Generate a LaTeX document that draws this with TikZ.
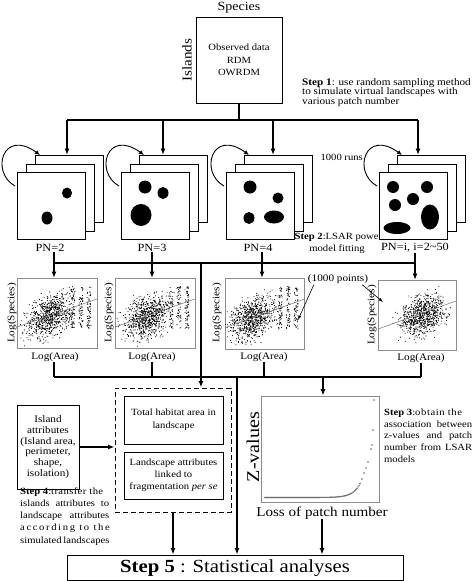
\documentclass[tikz,border=0pt]{standalone}
\usepackage{fontspec}
\setmainfont{Liberation Serif}[FakeStretch=1.12]
\usetikzlibrary{arrows.meta,calc}
\newcommand\myfs[2]{\fontsize{#1}{#2}\selectfont}
\newcommand\jline[2]{\makebox[#1][s]{#2}}
\newcommand\spaced[2]{{\addfontfeature{LetterSpace=#1}#2}}
% scatter plot: x0 y0 w h seed cx streaks
\newcommand\scat[7]{%
\begin{scope}
\clip (#1,#2) rectangle ++(#3,#4);
\pgfmathsetseed{#5}
\foreach \i in {1,...,750}{%
  \pgfmathsetmacro\uu{#6+0.14*(rand+rand+rand)}%
  \pgfmathsetmacro\vv{0.52-0.35*(\uu-0.5)+0.14*(rand+rand+rand)}%
  \fill (#1+\uu*#3,#2+\vv*#4) circle (0.55);
}
\ifnum#7=1
\foreach \i in {1,...,170}{%
  \pgfmathsetmacro\uu{0.7+0.1*floor(3*rnd)+0.025*rand}%
  \pgfmathsetmacro\vv{0.42+0.3*rand}%
  \fill (#1+\uu*#3,#2+\vv*#4) circle (0.55);
}
\fi
\draw[black!55,line width=0.5pt] (#1,#2+0.7*#4) -- (#1+#3,#2+0.3*#4);
\end{scope}}
\begin{document}
\begin{tikzpicture}[x=1pt,y=-1pt,
  conn/.style={line width=1.3pt},
  arr/.style={line width=1.3pt,-{Latex[length=6.5pt,width=5pt]}},
  box/.style={draw,line width=0.8pt,fill=white,inner sep=0pt},
  gbox/.style={draw=black!45,line width=0.8pt,inner sep=0pt,fill=white},
  loopar/.style={line width=0.9pt,-{Latex[length=5pt,width=4.5pt]}},
  thinarr/.style={line width=0.6pt,-{Latex[length=4.5pt,width=3pt]}},
  lbl/.style={inner sep=0pt,font=\myfs{10}{12}},
  blob/.style={fill=black},
]
\useasboundingbox (0,0) rectangle (474,581);
\fill[white] (0,0) rectangle (474,581);

% ---------- top ----------
\node[lbl,font=\myfs{12.5}{14}] (species) at (239,8) {Species};
\node[box,minimum width=86,minimum height=86,align=center,font=\myfs{9.5}{12.5}] (data) at (239,60) {Observed data\\RDM\\OWRDM};
\node[lbl,font=\myfs{13.5}{14},rotate=90] (islands) at (187,60) {Islands};
\node[lbl,anchor=north west,align=left,font=\myfs{10}{9.5}] (step1) at (302,78) {\textbf{Step 1}: use random sampling method\\to simulate virtual landscapes with\\various patch number};

\coordinate (j0) at (239,120);
\coordinate (h1) at (67,120);
\coordinate (h2) at (163,120);
\coordinate (h3) at (273,120);
\coordinate (h4) at (418,120);
\draw[conn] (data.south) -- (j0);
\draw[conn] (h1) -- (h4);

% ---------- stacks ----------
\newcommand\stack[2]{%
  \node[box,minimum width=68,minimum height=67,anchor=north west] (b#2) at (#1+18,155) {};
  \node[box,minimum width=68,minimum height=67,anchor=north west] (m#2) at (#1+9,163.5) {};
  \node[box,minimum width=68,minimum height=67,anchor=north west] (f#2) at (#1,172) {};
  \draw[loopar] (#1-2,186) .. controls (#1-27,172) and (#1-14,128) .. (#1+23,155);
}
\stack{17}{1}
\fill[blob] (67,193) ellipse (5 and 5.5);
\fill[blob] (47,218) ellipse (5.5 and 6.5);
\stack{121}{2}
\fill[blob] (145,187) circle (6.5);
\fill[blob] (163,193) ellipse (5.5 and 6);
\fill[blob] (141,215) ellipse (10.5 and 11);
\stack{226}{3}
\fill[blob] (250,187) circle (6.5);
\fill[blob] (278,198) circle (5.5);
\fill[blob] (249,218) ellipse (5.5 and 6);
\fill[blob] (274,217) ellipse (10 and 6.5);
\node[lbl,anchor=west,font=\myfs{9.5}{11}] (step2) at (294.5,237) {\textbf{Step 2}:LSAR power};
\node[lbl,font=\myfs{9.5}{11}] (step2b) at (337,249) {model fitting};
\stack{379}{4}
\fill[blob] (393,187) circle (6);
\fill[blob] (427,187) circle (6);
\fill[blob] (413,199) circle (6);
\fill[blob] (395,205) circle (6);
\fill[blob] (430,217) ellipse (9 and 12.5);
\fill[blob] (397,228) ellipse (13.5 and 6);
\node[lbl,anchor=east,font=\myfs{9.5}{11}] (runs) at (363,157) {1000 runs};

\draw[arr] (h1) -- (h1 |- b1.north);
\draw[arr] (h2) -- (h2 |- b2.north);
\draw[arr] (h3) -- (h3 |- b3.north);
\draw[arr] (h4) -- (h4 |- b4.north);

\node[lbl,font=\myfs{11}{12}] (pn1) at (50,248) {PN=2};
\node[lbl,font=\myfs{11}{12}] (pn2) at (152,248) {PN=3};
\node[lbl,font=\myfs{11}{12}] (pn3) at (258,248) {PN=4};
\node[lbl,font=\myfs{11}{12}] (pn4) at (415,248) {PN=i, i=2\textasciitilde50};

% ---------- scatter plots ----------
\node[gbox,minimum width=80,minimum height=70,anchor=north west] (p1) at (17,278) {};
\node[gbox,minimum width=80,minimum height=70,anchor=north west] (p2) at (115,278) {};
\node[gbox,minimum width=79,minimum height=71,anchor=north west] (p3) at (225,278) {};
\node[gbox,minimum width=78,minimum height=70,anchor=north west] (p4) at (378,280) {};
\scat{17}{278}{80}{70}{11}{0.4}{1}
\scat{115}{278}{80}{70}{23}{0.4}{1}
\scat{225}{278}{79}{71}{37}{0.36}{1}
\scat{378}{280}{78}{70}{45}{0.57}{0}

\node[lbl,rotate=90] (ls1) at (12,313) {Log(Species)};
\node[lbl,rotate=90] (ls2) at (109,313) {Log(Species)};
\node[lbl,rotate=90] (ls3) at (217,313) {Log(Species)};
\node[lbl,rotate=90] (ls4) at (372,315) {Log(Species)};
\node[lbl] (la1) at (55,357) {Log(Area)};
\node[lbl] (la2) at (152,357) {Log(Area)};
\node[lbl] (la3) at (264,357) {Log(Area)};
\node[lbl] (la4) at (421,358) {Log(Area)};

\node[lbl] (pts) at (338,279) {(1000 points)};
\coordinate (a1) at (298,320);
\coordinate (a2) at (383,302);
\draw[thinarr] ($(pts.south west)+(6,1)$) -- (a1);
\draw[thinarr] ($(pts.south east)+(-6,1)$) -- (a2);

% mid connectors
\coordinate (g1) at (54,263);
\coordinate (g2) at (152,263);
\coordinate (g3) at (262,263);
\coordinate (g4) at (415,263);
\coordinate (g0) at (201,263);
\draw[conn] (g1) -- (g4);
\draw[arr] (g1 |- pn1.south) -- (g1 |- p1.north);
\draw[arr] (g2 |- pn2.south) -- (g2 |- p2.north);
\draw[arr] (g3 |- pn3.south) -- (g3 |- p3.north);
\draw[arr] (g4 |- pn4.south) -- (g4 |- p4.north);

% bottom collectors
\coordinate (k1) at (54,377);
\coordinate (k2) at (152,377);
\coordinate (k3) at (264,377);
\coordinate (k4) at (421,377);
\coordinate (k5) at (237,377);
\coordinate (k6) at (323,377);
\draw[conn] (k1) -- (k4);
\draw[conn] (k1 |- la1.south) -- (k1);
\draw[conn] (k2 |- la2.south) -- (k2);
\draw[conn] (k3 |- la3.south) -- (k3);
\draw[conn] (k4 |- la4.south) -- (k4);

% ---------- lower section ----------
\node[draw,line width=1pt,dash pattern=on 5pt off 3pt,minimum width=116,minimum height=124,inner sep=0pt] (dash) at (173,450) {};
\node[box,minimum width=99,minimum height=48,align=center,font=\myfs{9.5}{13}] (tot) at (173.5,420) {Total habitat area in\\landscape};
\node[box,minimum width=99,minimum height=47,align=center,font=\myfs{9.5}{12}] (land) at (173.5,475.5) {Landscape attributes\\linked to\\fragmentation \textit{per se}};

\node[box,minimum width=62,minimum height=84,align=center,font=\myfs{10}{10.8}] (island) at (48,447) {Island\\attributes\\(Island area,\\perimeter,\\shape,\\isolation)};
\draw[arr] (island.east) -- (island.east -| dash.west);

\node[lbl,anchor=north west,align=left,font=\myfs{9.5}{12.2}] (step4) at (20,487.5) {\textbf{Step 4}:\spaced{4}{transfer the}\\\jline{89pt}{islands attributes to}\\\jline{89pt}{landscape attributes}\\\spaced{17}{according to the}\\\jline{89pt}{simulated landscapes}};

\node[gbox,minimum width=118,minimum height=106] (zplot) at (320,449) {};
\foreach \t in {0,...,95}{%
  \pgfmathsetmacro\yy{497.5-98*exp((\t-109)/7.2)}
  \fill[black!60] (265+\t,\yy) circle (0.8);
}
\foreach \p in {(362,479),(364,473),(366,468),(368,462),(371,449),(372,445),(373,430),(374,400)}
  \fill[black!60] \p circle (0.8);
\node[lbl,font=\myfs{18}{20},rotate=90] (zv) at (253,447) {Z-values};
\node[lbl,font=\myfs{13.5}{15}] (loss) at (322,513) {Loss of patch number};

\node[lbl,anchor=north west,align=left,font=\myfs{9.5}{11.8}] (step3) at (384,408.5) {\textbf{Step 3}:\spaced{6}{obtain the}\\\jline{88pt}{association between}\\\jline{88pt}{z-values and patch}\\\jline{88pt}{number from LSAR}\\models};

\node[box,minimum width=336,minimum height=26,font=\myfs{18.5}{20}] (step5) at (235,568) {\textbf{Step 5} : Statistical analyses};
\draw[line width=2pt] (step5.south west) -- (step5.south east);

\draw[arr] (g0) -- (g0 |- dash.north);
\draw[arr] (k5) -- (k5 |- step5.north);
\draw[arr] (k6) -- (k6 |- zplot.north);
\draw[arr] (dash.south) -- (dash.south |- step5.north);
\draw[arr] (loss.south) -- (loss.south |- step5.north);
\end{tikzpicture}
\end{document}
